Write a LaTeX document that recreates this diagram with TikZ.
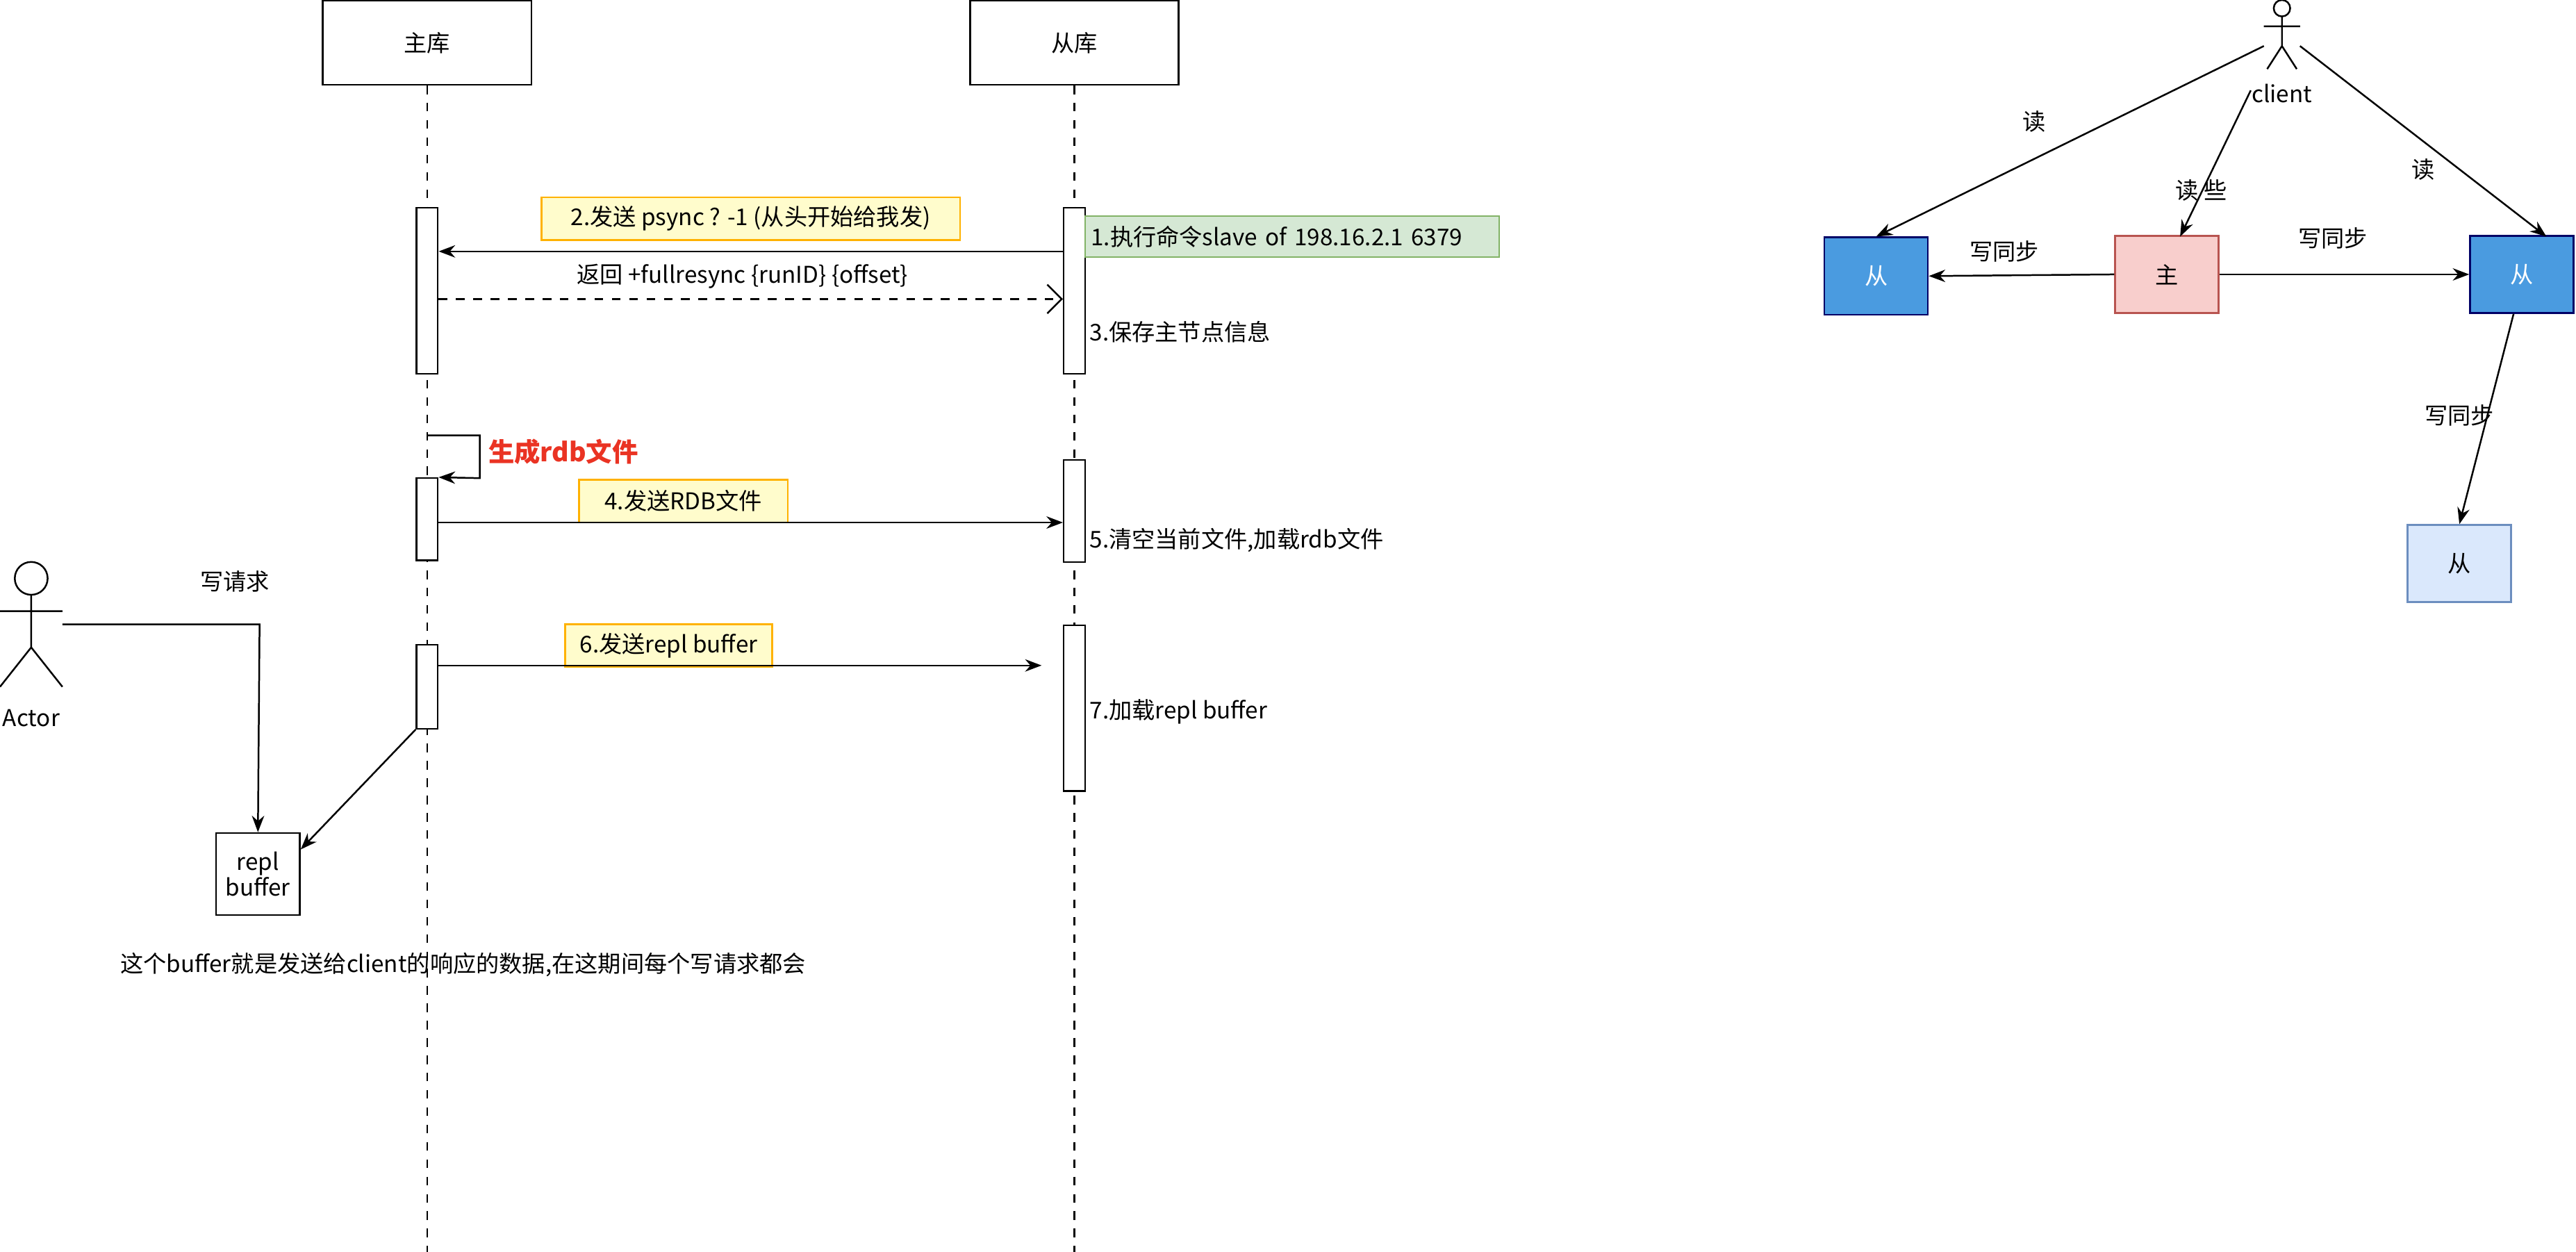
\documentclass[tikz,border=0pt]{standalone}
\usepackage{fontspec}
\setmainfont{Noto Sans CJK SC}
\usetikzlibrary{arrows.meta}
\begin{document}
\begin{tikzpicture}[x=0.02cm, y=-0.02cm, >=Stealth, line width=0.6pt, font=\fontsize{8}{10}\selectfont,
    head/.style={draw, fill=white, minimum width=2.54cm, minimum height=1.02cm},
    bar/.style={draw, fill=white, minimum width=0.26cm, inner sep=0pt},
    note/.style={draw=orange!60!yellow, fill=yellow!20, minimum height=0.52cm, inner sep=2pt},
    lbl/.style={anchor=west, inner sep=1pt},
    blue/.style={draw=blue!40!black, fill={rgb,255:red,74;green,155;blue,224}, text=white, minimum width=1.26cm, minimum height=0.94cm},
    life/.style={dashed, dash pattern=on 3pt off 3pt}]
  \useasboundingbox (0,0) rectangle (1568,762);
  % lifelines
  \node[head] (master) at (260,26) {主库};
  \node[head] (slave) at (654,26) {从库};
  \coordinate (mEnd) at (260,762);
  \coordinate (sEnd) at (654,762);
  \draw[life] (master) -- (mEnd);
  \draw[life] (slave) -- (sEnd);
  % activation bars
  \node[bar, minimum height=2.02cm] (m1) at (260,177) {};
  \node[bar, minimum height=1.0cm] (m2) at (260,316) {};
  \node[bar, minimum height=1.02cm] (m3) at (260,418) {};
  \node[bar, minimum height=2.02cm] (s1) at (654,177) {};
  \node[bar, minimum height=1.24cm] (s2) at (654,311) {};
  \node[bar, minimum height=2.02cm] (s3) at (654,431) {};
  % messages
  \node[draw={rgb,255:red,130;green,179;blue,102}, fill={rgb,255:red,213;green,232;blue,212}, anchor=west, text width=4.9cm, minimum height=0.5cm, inner sep=2pt] (cmd) at (660,144) {1.执行命令slave of 198.16.2.1 6379};
  \node[note, minimum width=5.1cm] (psync) at (457,133) {2.发送 psync ? -1 (从头开始给我发)};
  \draw[->] (s1.west |- 0,153) -- (m1.east |- 0,153);
  \node (ret) at (452,168) {返回 +fullresync \{runID\} \{offset\}};
  \draw[->, dashed, >={Straight Barb[length=5pt]}] (m1.east |- 0,182) -- (s1.west |- 0,182);
  \node[lbl] (save) at (661,202) {3.保存主节点信息};
  % self call
  \coordinate (loopA) at (292,265);
  \coordinate (loopB) at (292,291);
  \draw[->] (master |- loopA) -- (loopA) -- (loopB) -- (m2.north east);
  \node[lbl, text={rgb,255:red,234;green,51;blue,35}, font=\fontsize{9}{10}\selectfont\bfseries] (gen) at (295,275) {生成rdb文件};
  \node[note, minimum width=2.54cm] (rdb) at (416,305) {4.发送RDB文件};
  \draw[->] (m2.east |- 0,318) -- (s2.west |- 0,318);
  \node[lbl] (load) at (661,329) {5.清空当前文件,加载rdb文件};
  \node[note, minimum width=2.52cm] (repl) at (407,393) {6.发送repl buffer};
  \coordinate (replEnd) at (634,405);
  \draw[->] (m3.east |- 0,405) -- (replEnd);
  \node[lbl] (loadRepl) at (661,433) {7.加载repl buffer};
  % actor
  \draw (19,352) circle (10);
  \draw (19,362) -- (19,394) (0,372) -- (38,372) (19,394) -- (0,418) (19,394) -- (38,418);
  \node (actor) at (19,437) {Actor};
  \node (req) at (143,354) {写请求};
  \node[draw, fill=white, minimum width=1.02cm, minimum height=1.0cm, align=center, inner sep=1pt, font=\fontsize{8}{9}\selectfont] (buf) at (157,532) {repl\\buffer};
  \coordinate (actorR) at (38,380);
  \coordinate (reqTurn) at (158,380);
  \draw[->] (actorR) -- (reqTurn) -- (buf.north);
  \draw[->] (m3.south west) -- (buf.east |- 0,517);
  \node[lbl] (desc) at (71,587) {这个buffer就是发送给client的响应的数据,在这期间每个写请求都会};
  % right diagram
  \draw (1389,5) circle (5);
  \draw (1389,10) -- (1389,28) (1378,16) -- (1400,16) (1389,28) -- (1380,42) (1389,28) -- (1398,42);
  \node (client) at (1389,57) {client};
  \node[blue] (sl) at (1142,168) {从};
  \node[draw={rgb,255:red,184;green,84;blue,80}, fill={rgb,255:red,248;green,206;blue,204}, minimum width=1.26cm, minimum height=0.94cm] (mst) at (1319,167) {主};
  \node[blue] (sr) at (1535,167) {从};
  \node[draw={rgb,255:red,108;green,142;blue,191}, fill={rgb,255:red,218;green,232;blue,252}, minimum width=1.26cm, minimum height=0.94cm] (sb) at (1497,343) {从};
  \coordinate (cL) at (1378,28);
  \coordinate (cM) at (1370,55);
  \coordinate (cR) at (1400,28);
  \draw[->] (cL) -- (sl.north);
  \draw[->] (cM) -- (1327,144);
  \draw[->] (cR) -- (1550,144);
  \node (r1) at (1238,74) {读};
  \node (r2) at (1340,116) {读 些};
  \node (r3) at (1475,103) {读};
  \draw[->] (mst.west) -- (sl.east);
  \draw[->] (mst.east) -- (sr.west);
  \draw[->] (1530,191) -- (sb.north);
  \node (w1) at (1220,153) {写同步};
  \node (w2) at (1420,145) {写同步};
  \node (w3) at (1497,253) {写同步};
\end{tikzpicture}
\end{document}
